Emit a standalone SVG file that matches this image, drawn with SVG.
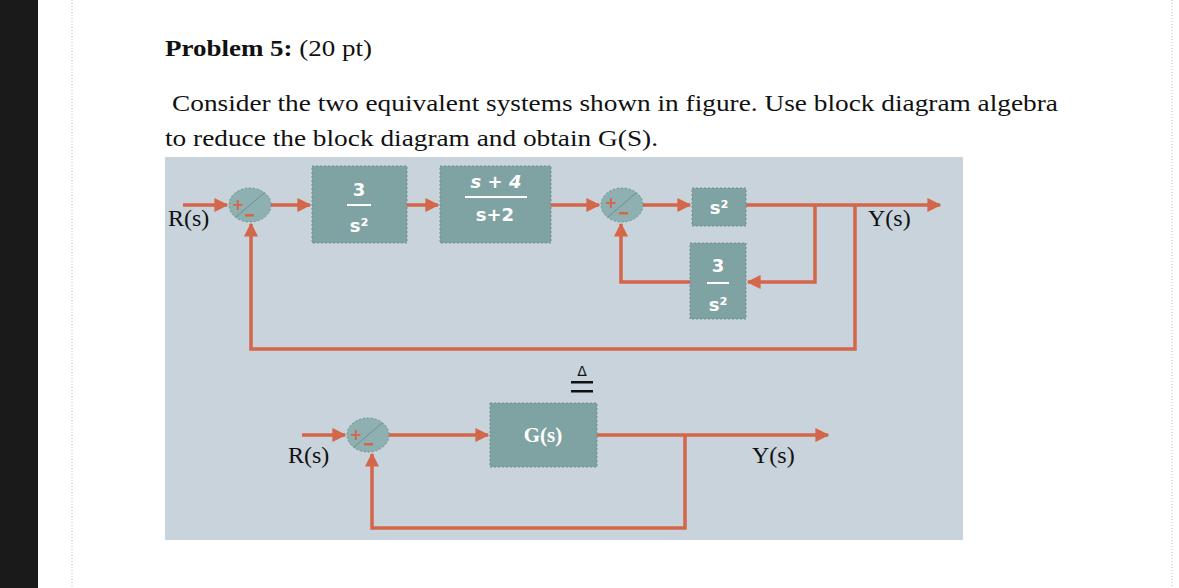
<svg xmlns="http://www.w3.org/2000/svg" width="1179" height="588" viewBox="0 0 1179 588">
<defs>
<style>
.t{font-family:"Liberation Serif",serif;fill:#111}
.w{font-family:"DejaVu Sans",sans-serif;font-weight:bold;fill:#fff;text-anchor:middle}
.blk{fill:#7fa3a3;stroke:#6f8f8f;stroke-dasharray:2 2}
.sum{fill:#8fb0b0;stroke:#6f8f8f;stroke-dasharray:2 2}
.ln{fill:none;stroke:#d4664a;stroke-width:3.5}
</style>
<marker id="a" viewBox="0 0 10 10" refX="9" refY="5" markerWidth="4" markerHeight="4" orient="auto"><path d="M0,0L10,5L0,10z" fill="#d4664a"/></marker>
</defs>
<rect width="1179" height="588" fill="#fff"/>
<rect x="0" y="0" width="38" height="588" fill="#1a1a1a"/>
<line x1="72" y1="0" x2="72" y2="588" stroke="#bbb" stroke-dasharray="1 2"/>
<line x1="1172" y1="0" x2="1172" y2="588" stroke="#bbb" stroke-dasharray="1 2"/>
<text class="t" x="165" y="56" font-size="24" textLength="207" lengthAdjust="spacingAndGlyphs"><tspan font-weight="bold">Problem 5:</tspan> (20 pt)</text>
<text class="t" x="172" y="111" font-size="24" textLength="886" lengthAdjust="spacingAndGlyphs">Consider the two equivalent systems shown in figure. Use block diagram algebra</text>
<text class="t" x="165" y="146" font-size="24" textLength="493" lengthAdjust="spacingAndGlyphs">to reduce the block diagram and obtain G(S).</text>
<rect x="165" y="157" width="798" height="383" fill="#c8d3db"/>
<g id="connectors">
<path class="ln" d="M183,205H227" marker-end="url(#a)"/>
<path class="ln" d="M271,205H310" marker-end="url(#a)"/>
<path class="ln" d="M407,205H438" marker-end="url(#a)"/>
<path class="ln" d="M551,205H599" marker-end="url(#a)"/>
<path class="ln" d="M643,205H690" marker-end="url(#a)"/>
<path class="ln" d="M746,205H940" marker-end="url(#a)"/>
<path class="ln" d="M815,205V282H748" marker-end="url(#a)"/>
<path class="ln" d="M690,282H621V224" marker-end="url(#a)"/>
<path class="ln" d="M855,205V349H251V224" marker-end="url(#a)"/>
<path class="ln" d="M302,435H345" marker-end="url(#a)"/>
<path class="ln" d="M389,435H488" marker-end="url(#a)"/>
<path class="ln" d="M597,435H828" marker-end="url(#a)"/>
<path class="ln" d="M685,435V528H372V454" marker-end="url(#a)"/>
</g>
<g id="sum1"><ellipse class="sum" cx="250" cy="205" rx="21" ry="17"/><path d="M236,217L264,193" stroke="#6f8f8f" fill="none"/><text x="238" y="210" font-family="DejaVu Sans" font-weight="bold" font-size="15" fill="#d4664a" text-anchor="middle">+</text><rect x="245" y="214" width="9" height="2.5" fill="#d4664a"/></g>
<g id="sum2"><ellipse class="sum" cx="622" cy="205" rx="21" ry="17"/><path d="M608,217L636,193" stroke="#6f8f8f" fill="none"/><text x="611" y="208" font-family="DejaVu Sans" font-weight="bold" font-size="15" fill="#d4664a" text-anchor="middle">+</text><rect x="619" y="212" width="9" height="2.5" fill="#d4664a"/></g>
<g id="sum3"><ellipse class="sum" cx="368" cy="435" rx="21" ry="17"/><path d="M354,447L382,423" stroke="#6f8f8f" fill="none"/><text x="356" y="440" font-family="DejaVu Sans" font-weight="bold" font-size="15" fill="#d4664a" text-anchor="middle">+</text><rect x="364" y="443" width="9" height="2.5" fill="#d4664a"/></g>
<g id="b1"><rect class="blk" x="312" y="166" width="95" height="77"/><text class="w" x="359" y="196" font-size="18">3</text><rect x="347" y="204" width="24" height="2" fill="#fff"/><text class="w" x="359" y="232" font-size="18">s²</text></g>
<g id="b2"><rect class="blk" x="440" y="166" width="111" height="77"/><text class="w" x="496" y="188" font-size="18" font-style="italic">s + 4</text><rect x="465" y="196" width="62" height="2" fill="#fff"/><text class="w" x="495" y="221" font-size="18">s+2</text></g>
<g id="b3"><rect class="blk" x="692" y="188" width="54" height="38"/><text class="w" x="719" y="214" font-size="18">s²</text></g>
<g id="b4"><rect class="blk" x="690" y="243" width="56" height="76"/><text class="w" x="718" y="272" font-size="18">3</text><rect x="707" y="282" width="22" height="2" fill="#fff"/><text class="w" x="718" y="311" font-size="18">s²</text></g>
<g id="g"><rect class="blk" x="490" y="403" width="107" height="64"/><text class="w" x="543" y="442" font-size="21" style="font-family:'Liberation Serif',serif">G(s)</text></g>
<text class="t" x="168" y="226" font-size="24">R(s)</text>
<text class="t" x="868" y="226" font-size="24">Y(s)</text>
<text class="t" x="288" y="463" font-size="24">R(s)</text>
<text class="t" x="752" y="463" font-size="24">Y(s)</text>
<g id="eqdef"><text x="582" y="376" font-family="DejaVu Sans" font-size="14" text-anchor="middle" fill="#111">Δ</text><rect x="571" y="381" width="22" height="2.5" fill="#111"/><rect x="571" y="390" width="22" height="2.5" fill="#111"/></g>
</svg>
